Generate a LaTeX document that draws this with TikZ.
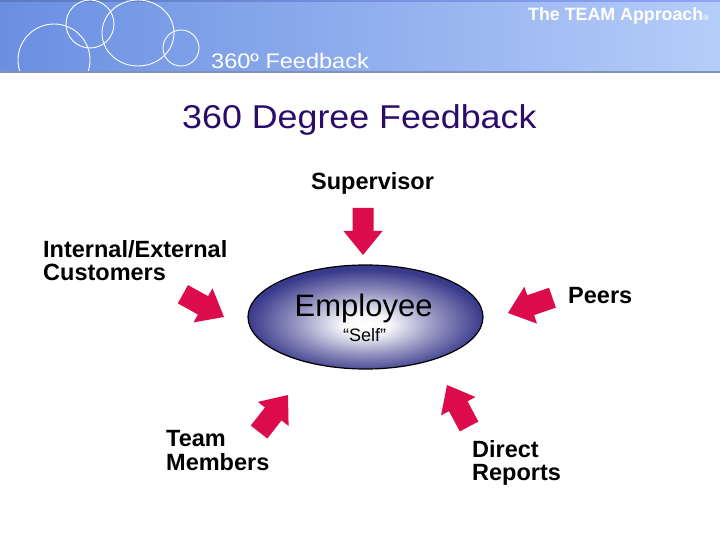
\documentclass[tikz,border=0pt]{standalone}
\usepackage{graphicx}
\usepackage{fontspec}
\setmainfont{Liberation Sans}
\usetikzlibrary{shapes.geometric}
\definecolor{arrowred}{HTML}{DB0B4C}
\definecolor{empblue}{HTML}{3A3A8C}
\definecolor{titleviolet}{HTML}{2B0C6B}
\definecolor{bandleft}{HTML}{6A8FE2}
\definecolor{bandright}{HTML}{B5CDF9}
\definecolor{bandline}{HTML}{8092BC}
\pgfdeclareradialshading{empshade}{\pgfpoint{0bp}{-4bp}}{color(0bp)=(white); color(5bp)=(white!96!empblue); color(15bp)=(empblue!55!white); color(25bp)=(empblue); color(50bp)=(empblue)}
\tikzset{
  lbl/.style={font=\fontsize{23.5}{24}\selectfont\bfseries, anchor=base west, inner sep=0pt, text=black},
  blockarr/.pic={\fill[arrowred] (0,0) -- (-24,19.5) -- (-24,10.5) -- (-47,10.5) -- (-47,-10.5) -- (-24,-10.5) -- (-24,-19.5) -- cycle;},
  ring/.style={draw=white, line width=0.9pt},
}
\begin{document}
\begin{tikzpicture}[x=1pt, y=-1pt]
\useasboundingbox (0,0) rectangle (720,540);
\fill[white] (0,0) rectangle (720,540);
% header band
\shade[left color=bandleft, right color=bandright] (0,0) rectangle (720,72);
\shade[left color=bandleft!85!black, right color=bandright!80!blue] (0,0) rectangle (720,1.5);
\begin{scope}
  \clip (0,0) rectangle (720,72);
  \draw[ring] (54,60) circle[radius=36];
  \draw[ring] (90,24) circle[radius=24];
  \draw[ring] (138,33) ellipse[x radius=36, y radius=33];
  \draw[ring] (181,48) circle[radius=18];
\end{scope}
\draw[bandline, line width=1.3pt] (0,72) -- (720,72);
\node[anchor=base west, inner sep=0pt, text=white, font=\fontsize{17.8}{18}\selectfont\bfseries] (team) at (528,21) {The TEAM Approach{\fontsize{8}{8}\selectfont\raisebox{0.5pt}{®}}};
\node[anchor=base west, inner sep=0pt, text=white, font=\fontsize{21}{21}\selectfont] (sub) at (211,69) {\scalebox{1.12}[1]{360º Feedback}};
% title
\node[anchor=base west, inner sep=0pt, text=titleviolet, font=\fontsize{33}{33}\selectfont] (title) at (182,129) {\scalebox{1.085}[1]{360 Degree Feedback}};
% employee ellipse
\node[ellipse, draw=black, line width=1.2pt, shading=empshade, minimum width=235, minimum height=104, inner sep=0pt] (emp) at (365.5,317) {};
\node[anchor=base west, inner sep=0pt, font=\fontsize{31}{31}\selectfont] (empText) at (294.5,316) {Employee};
\node[anchor=base west, inner sep=0pt, font=\fontsize{18}{18}\selectfont] (self) at (343,341) {“Self”};
% labels
\node[lbl] (sup) at (311,190) {Supervisor};
\node[lbl] (cust1) at (43,257) {Internal/External};
\node[lbl] (cust2) at (43,280) {Customers};
\node[lbl] (peers) at (568,303) {Peers};
\node[lbl] (team1) at (166,446) {Team};
\node[lbl] (team2) at (166,470) {Members};
\node[lbl] (dir1) at (472,457) {Direct};
\node[lbl] (dir2) at (472,480) {Reports};
% arrow tips
\coordinate (supTip) at (363,255);
\coordinate (custTip) at (224,317);
\coordinate (peerTip) at (508,313);
\coordinate (teamTip) at (288,395);
\coordinate (dirTip) at (447,385);
\pic[rotate=-90] at (supTip) {blockarr};
\pic[rotate=-29] at (custTip) {blockarr};
\pic[rotate=199] at (peerTip) {blockarr};
\pic[rotate=52] at (teamTip) {blockarr};
\pic[rotate=118] at (dirTip) {blockarr};
\end{tikzpicture}
\end{document}
